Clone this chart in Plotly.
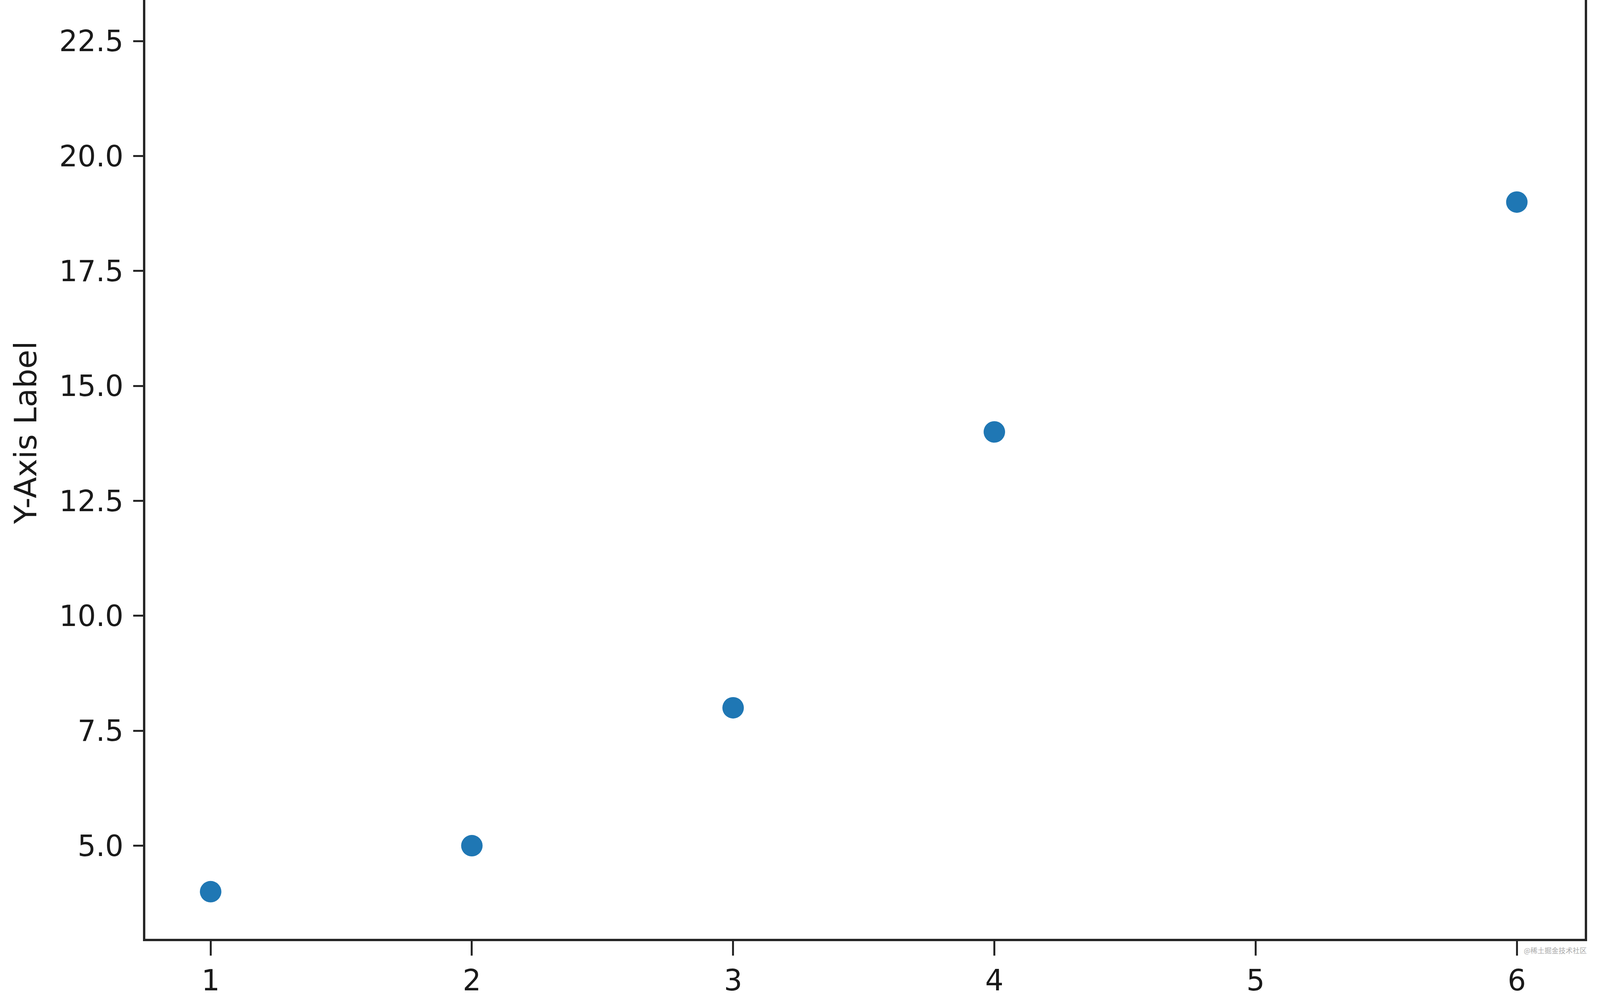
import plotly.graph_objects as go

# Data
x_vals = [1, 2, 3, 4, 6]
y_vals = [4, 5, 8, 14, 19]
x_ticks = [1, 2, 3, 4, 5, 6]
y_ticks = [5.0, 7.5, 10.0, 12.5, 15.0, 17.5, 20.0, 22.5]
y_title = "Y-Axis Label"
watermark = "@稀土掘金技术社区"

# The browser viewport is 4096 px wide; the axes box extends above the
# visible area (as in the cropped reference), so the figure is taller and
# shifted up by HIDE px.
W, VIEW_H, HIDE = 4096, 2553, 195
H = VIEW_H + HIDE
L, R, T, B = 372, 39, 0, 98

FONT = "DejaVu Sans"
LINE = "#262626"
TXT = "#1a1a1a"
FS = 74

fig = go.Figure()
fig.add_trace(go.Scatter(
    x=x_vals, y=y_vals, mode="markers",
    marker=dict(color="#1f77b4", size=55, line=dict(width=0)),
    showlegend=False,
))

plot_h = H - T - B
fig.update_layout(
    width=W, height=H,
    margin=dict(l=L, r=R, t=T, b=B, pad=0),
    paper_bgcolor="white", plot_bgcolor="white",
    font=dict(family=FONT, size=FS, color=TXT),
    xaxis=dict(
        range=[0.75, 6.26], tickmode="array", tickvals=x_ticks,
        ticktext=[str(v) for v in x_ticks],
        showgrid=False, zeroline=False,
        showline=True, linecolor=LINE, linewidth=6, mirror=True,
        ticks="outside", ticklen=37, tickwidth=5, tickcolor=LINE,
        ticklabelstandoff=0,
        tickfont=dict(family=FONT, size=FS, color=TXT),
    ),
    yaxis=dict(
        range=[2.975, 25.0], tickmode="array", tickvals=y_ticks,
        ticktext=[f"{v:.1f}" for v in y_ticks],
        showgrid=False, zeroline=False,
        showline=True, linecolor=LINE, linewidth=6, mirror=True,
        ticks="outside", ticklen=25, tickwidth=5, tickcolor=LINE,
        ticklabelstandoff=10,
        tickfont=dict(family=FONT, size=FS, color=TXT),
        title=dict(text=y_title, standoff=34,
                   font=dict(family=FONT, size=79, color=TXT)),
    ),
    annotations=[dict(
        text=watermark, xref="paper", yref="paper",
        x=(3899 - L) / (W - L - R), y=-(2485 + HIDE - (H - B)) / plot_h,
        xanchor="left", yanchor="middle", showarrow=False,
        font=dict(family="Noto Sans CJK SC", size=18, color="#a8a8a8"),
    )],
)

post = (
    "document.body.style.margin='0';"
    "document.body.style.overflow='hidden';"
    "var gd=document.getElementsByClassName('plotly-graph-div')[0];"
    "gd.style.marginTop='-%dpx';" % HIDE
)
fig.write_html("out.html", post_script=post,
               config={"displayModeBar": False})
